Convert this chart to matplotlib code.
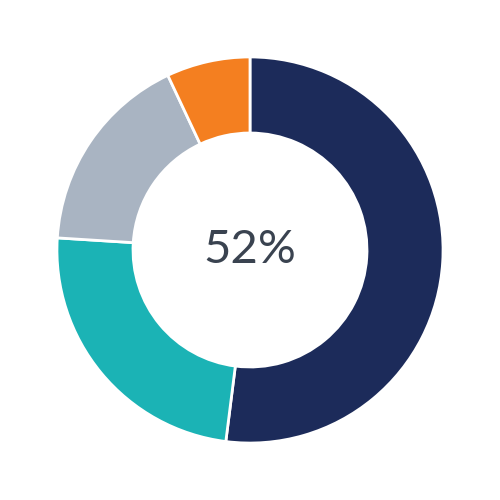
import matplotlib
matplotlib.use("Agg")
import matplotlib.pyplot as plt

labels = ["Navy", "Teal", "Gray", "Orange"]
values = [52, 24, 17, 7]
colors = ["#1c2b5a", "#1bb3b5", "#a9b4c2", "#f47f20"]
center_text = "52%"

fig = plt.figure(figsize=(5, 5), dpi=100)
ax = fig.add_axes([0, 0, 1, 1])

ax.pie(values, colors=colors, startangle=90, counterclock=False,
       radius=1.0, wedgeprops=dict(width=0.394, edgecolor="white", linewidth=2))
ax.text(0, 0, center_text, ha="center", va="center", fontsize=34,
        family="Lato", color="#3a4350")

ax.set_xlim(-1.295, 1.295)
ax.set_ylim(-1.295, 1.295)
ax.set_aspect("equal")
ax.axis("off")

fig.savefig("out.png", dpi=100, facecolor="white")
